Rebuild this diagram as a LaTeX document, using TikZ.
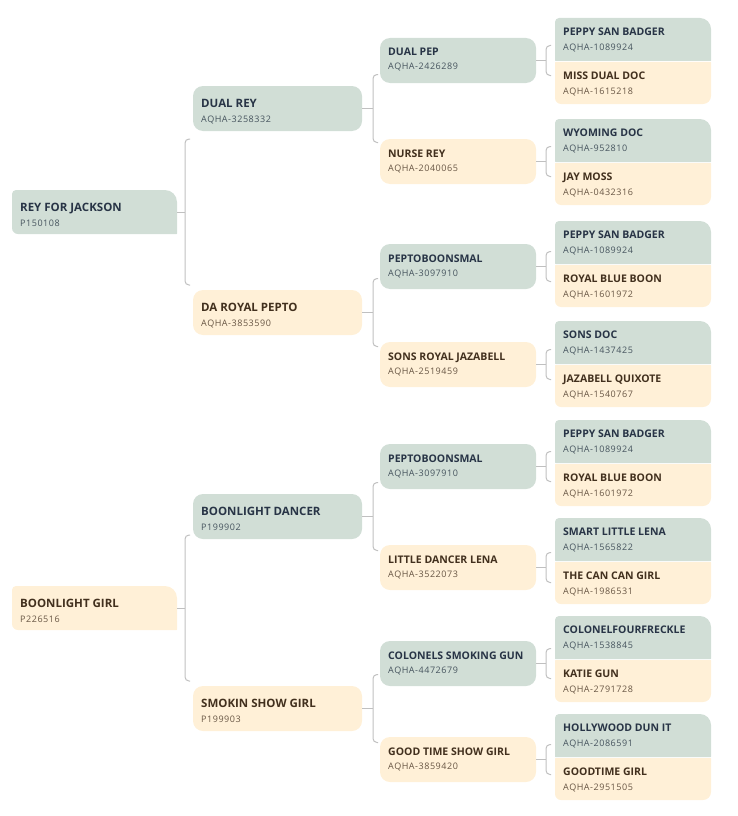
\documentclass[tikz,border=0pt]{standalone}
\usepackage{fontspec}
\setmainfont{Open Sans}
\usetikzlibrary{backgrounds}

\definecolor{sirefill}{RGB}{209,222,214}
\definecolor{damfill}{RGB}{255,240,215}
\definecolor{sireink}{RGB}{40,52,70}
\definecolor{damink}{RGB}{66,48,30}
\definecolor{sireid}{RGB}{70,84,94}
\definecolor{damid}{RGB}{104,86,68}
\definecolor{linkgray}{RGB}{192,192,192}

\tikzset{
  horsebox/.style={anchor=north west, inner sep=0pt, outer sep=0pt},
  horsename/.style={anchor=base west, inner sep=0pt, font=\bfseries\fontsize{11.5}{13}\selectfont},
  horsereg/.style={anchor=base west, inner sep=0pt, font=\fontsize{9}{10}\selectfont\addfontfeature{LetterSpace=6}},
  genA/.style={minimum width=165pt, minimum height=44pt},
  genAname/.style={yshift=-0.5pt}, genAreg/.style={yshift=-0.5pt},
  genB/.style={minimum width=169pt, minimum height=45pt},
  genBname/.style={}, genBreg/.style={},
  genC/.style={minimum width=156pt, minimum height=45pt},
  genCname/.style={yshift=3pt, font=\bfseries\fontsize{10.5}{12}\selectfont},
  genCreg/.style={yshift=4pt},
  genD/.style={minimum width=156pt, minimum height=43pt},
  genDname/.style={yshift=3.5pt, font=\bfseries\fontsize{10.5}{12}\selectfont},
  genDreg/.style={yshift=3.5pt},
  genE/.style={genD, minimum height=42pt},
  genEname/.style={genDname}, genEreg/.style={yshift=4pt},
  link/.style={draw=linkgray, line width=1pt},
}

% box with its name and registration number
\newcommand{\horse}[7]{%
  \node[horsebox,#4] (#1) at (#2,#3) {};
  \node[horsename,#4name,text=#5ink] (#1-name) at ([xshift=8pt,yshift=-21pt]#1.north west) {#6};
  \node[horsereg,#4reg,text=#5id] (#1-reg) at ([xshift=8pt,yshift=-36pt]#1.north west) {#7};
}
% fill behind a box: node, corner radii tl tr br bl, colour
\newcommand{\horseshape}[6]{%
  \begin{scope}[on background layer]
    \fill[#6] ([yshift=-#2pt]#1.north west) arc[start angle=180,end angle=270,radius=#2]
      -- ([xshift=-#3pt]#1.north east) arc[start angle=270,end angle=360,radius=#3]
      -- ([yshift=#4pt]#1.south east) arc[start angle=0,end angle=90,radius=#4]
      -- ([xshift=#5pt]#1.south west) arc[start angle=90,end angle=180,radius=#5] -- cycle;
  \end{scope}}
% bracket from a parent to its two parents
\newcommand{\fork}[3]{%
  \draw[link] (#1.east) -- ++(#2,0) coordinate (#1-fork);
  \draw[link,rounded corners=4pt] ([shift={(5,-#3)}]#1-fork) -- ++(-5,0) -- ++(0,2*#3) -- ++(5,0);
}

\begin{document}
\begin{tikzpicture}[x=1pt,y=-1pt]
  \useasboundingbox (0,0) rectangle (737,816);

  % first generation
  \horse{rey}{12}{190}{genA}{sire}{REY FOR JACKSON}{P150108}
  \horseshape{rey}{4}{12}{0.5}{6}{sirefill}
  \horse{boon}{12}{586}{genA}{dam}{BOONLIGHT GIRL}{P226516}
  \horseshape{boon}{4}{12}{0.5}{6}{damfill}

  % second generation
  \foreach \y/\kind/\n/\r [count=\i] in {
      86/sire/DUAL REY/AQHA-3258332,
      290/dam/DA ROYAL PEPTO/AQHA-3853590,
      494/sire/BOONLIGHT DANCER/P199902,
      686/dam/SMOKIN SHOW GIRL/P199903}{
    \horse{b\i}{193}{\y}{genB}{\kind}{\n}{\r}
    \horseshape{b\i}{10}{10}{10}{10}{\kind fill}
  }

  % third generation
  \foreach \y/\kind/\n/\r [count=\i] in {
      38/sire/DUAL PEP/AQHA-2426289,
      139/dam/NURSE REY/AQHA-2040065,
      244/sire/PEPTOBOONSMAL/AQHA-3097910,
      342/dam/SONS ROYAL JAZABELL/AQHA-2519459,
      444/sire/PEPTOBOONSMAL/AQHA-3097910,
      545/dam/LITTLE DANCER LENA/AQHA-3522073,
      641/sire/COLONELS SMOKING GUN/AQHA-4472679,
      737/dam/GOOD TIME SHOW GIRL/AQHA-3859420}{
    \horse{c\i}{380}{\y}{genC}{\kind}{\n}{\r}
    \horseshape{c\i}{10}{10}{10}{10}{\kind fill}
  }

  % fourth generation, sire over dam
  \foreach \y/\sn/\sr/\dn/\dr [count=\i] in {
      18/PEPPY SAN BADGER/AQHA-1089924/MISS DUAL DOC/AQHA-1615218,
      119/WYOMING DOC/AQHA-952810/JAY MOSS/AQHA-0432316,
      221/PEPPY SAN BADGER/AQHA-1089924/ROYAL BLUE BOON/AQHA-1601972,
      321/SONS DOC/AQHA-1437425/JAZABELL QUIXOTE/AQHA-1540767,
      420/PEPPY SAN BADGER/AQHA-1089924/ROYAL BLUE BOON/AQHA-1601972,
      518/SMART LITTLE LENA/AQHA-1565822/THE CAN CAN GIRL/AQHA-1986531,
      616/COLONELFOURFRECKLE/AQHA-1538845/KATIE GUN/AQHA-2791728,
      714/HOLLYWOOD DUN IT/AQHA-2086591/GOODTIME GIRL/AQHA-2951505}{
    \horse{d\i s}{555}{\y}{genD}{sire}{\sn}{\sr}
    \horseshape{d\i s}{4}{11}{0.5}{0.5}{sirefill}
    \horse{d\i d}{555}{\y+44}{genE}{dam}{\dn}{\dr}
    \horseshape{d\i d}{0.5}{0.5}{8}{6}{damfill}
  }

  % brackets
  \fork{rey}{8}{73}
  \fork{boon}{8}{73}
  \foreach \i in {1,...,4} {\fork{b\i}{11}{34}}
  \foreach \i in {1,...,8} {\fork{c\i}{10}{15}}
\end{tikzpicture}
\end{document}
